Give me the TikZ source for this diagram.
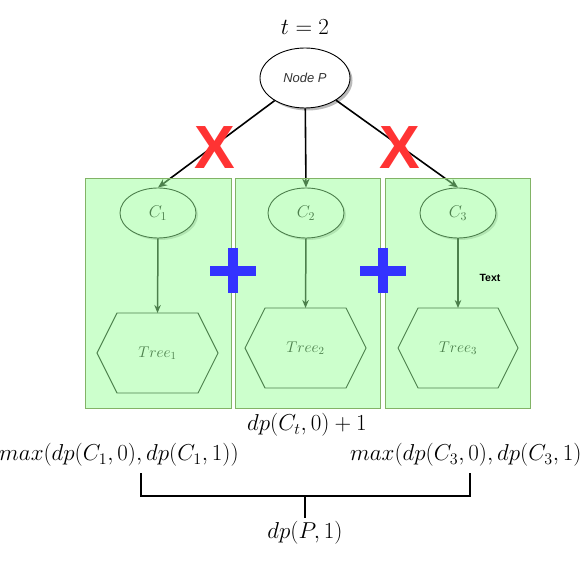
\RequirePackage{fix-cm}
\documentclass[tikz,border=0pt]{standalone}
\usepackage{fontspec}
\newfontfamily\arialfont{Liberation Sans}
\usetikzlibrary{shapes.geometric,arrows.meta,shadows}
\definecolor{boxfill}{rgb}{0.6,1,0.6}
\definecolor{boxgreen}{HTML}{82B366}
\definecolor{xred}{HTML}{FF3333}
\definecolor{plusblue}{HTML}{3333FF}
\definecolor{ptext}{HTML}{333333}
\tikzset{
  pnode/.style={ellipse, draw, fill=white, minimum width=90, minimum height=60, inner sep=0, line width=0.9pt,
    drop shadow={shadow xshift=2.5pt, shadow yshift=-2.5pt, fill=black!45, opacity=0.6},
    text=ptext, font=\arialfont\itshape\fontsize{13}{15}\selectfont},
  cnode/.style={ellipse, draw, fill=white, minimum width=76, minimum height=50, inner sep=0, line width=0.9pt,
    drop shadow={shadow xshift=2pt, shadow yshift=-2pt, fill=black!40, opacity=0.5},
    font=\fontsize{17}{20}\selectfont},
  hexline/.style={draw=black, line width=0.9pt},
  tlabel/.style={inner sep=0, font=\fontsize{15.5}{18}\selectfont},
  parrow/.style={draw=black, line width=1.6pt, -{Stealth[length=9pt,width=7.5pt]}},
  carrow/.style={draw=black, line width=1.5pt, -{Stealth[length=8pt,width=6.5pt]}},
  boxov/.style={rectangle, fill=boxfill, fill opacity=0.5, draw=boxgreen, line width=0.9pt, inner sep=0},
  xmark/.style={inner sep=0, text=xred, font=\arialfont\bfseries\fontsize{61}{61}\selectfont},
  mathlbl/.style={inner sep=0, font=\fontsize{23}{27}\selectfont},
  bracketline/.style={draw=black, line width=1.8pt},
  smalltext/.style={inner sep=0, font=\arialfont\bfseries\fontsize{10.5}{12}\selectfont}
}
\begin{document}
\begin{tikzpicture}[x=1pt,y=-1pt]
\useasboundingbox (0,0) rectangle (581,564);
% title
\node[mathlbl] (title) at (305,27) {$t=2$};
% parent
\node[pnode] (P) at (305,78) {Node P};
% children
\node[cnode] (C1) at (158,213) {$C_1$};
\node[cnode] (C2) at (306,213) {$C_2$};
\node[cnode] (C3) at (458,213) {$C_3$};
% hexagons
\draw[hexline] (97,353) -- (117,313) -- (198,313) -- (218,353) -- (198,393) -- (117,393) -- cycle;
\draw[hexline] (245,348) -- (265,308) -- (346,308) -- (366,348) -- (346,388) -- (265,388) -- cycle;
\draw[hexline] (398,348) -- (418,308) -- (498,308) -- (518,348) -- (498,388) -- (418,388) -- cycle;
\coordinate (T1top) at (157.5,313);
\coordinate (T2top) at (305.5,308);
\coordinate (T3top) at (458,308);
\node[tlabel] (T1) at (157.5,353) {$Tree_1$};
\node[tlabel] (T2) at (305.5,348) {$Tree_2$};
\node[tlabel] (T3) at (458,348) {$Tree_3$};
% arrows
\draw[parrow] (P) -- (C1.north);
\draw[parrow] (P) -- (C2.north);
\draw[parrow] (P) -- (C3.north);
\draw[carrow] (C1.south) -- (T1top);
\draw[carrow] (C2.south) -- (T2top);
\draw[carrow] (C3.south) -- (T3top);
% green boxes overlay
\node[boxov, minimum width=146, minimum height=230] (B1) at (158,293) {};
\node[boxov, minimum width=145, minimum height=230] (B2) at (307.5,293) {};
\node[boxov, minimum width=145, minimum height=230] (B3) at (458,293) {};
% text
\node[smalltext] (txt) at (490,278) {Text};
% plus signs
\fill[plusblue] (228,248) rectangle (238,293);
\fill[plusblue] (210,266) rectangle (256,276);
\fill[plusblue] (378,248) rectangle (388,293);
\fill[plusblue] (360,266) rectangle (406,276);
% red crosses
\node[xmark] (X1) at (215,148) {X};
\node[xmark] (X2) at (400,148) {X};
% bottom labels
\node[mathlbl] (dpc) at (307,425) {$dp(C_t,0)+1$};
\node[mathlbl, anchor=east] (max1) at (239,455) {$max(dp(C_1,0),dp(C_1,1))$};
\node[mathlbl, anchor=west] (max3) at (350,455) {$max(dp(C_3,0),dp(C_3,1)$};
\node[mathlbl] (dpP) at (305,533) {$dp(P,1)$};
% bracket
\coordinate (bl) at (141,473);
\coordinate (br) at (470,473);
\coordinate (bmid) at (305,496);
\coordinate (btick) at (305,518);
\draw[bracketline] (bl) |- (bmid) -| (br);
\draw[bracketline] (bmid) -- (btick);
\end{tikzpicture}
\end{document}
